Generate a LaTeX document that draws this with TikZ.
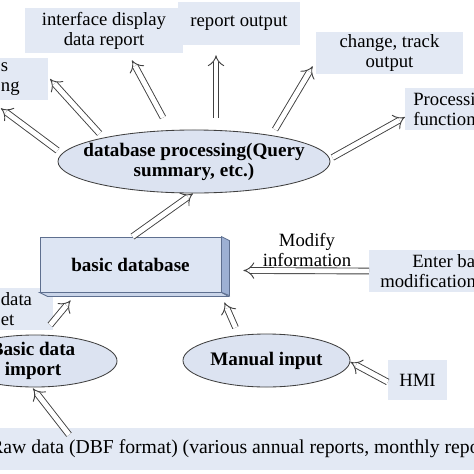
\documentclass[tikz,border=0pt]{standalone}
\usepackage{fontspec}
\setmainfont{Liberation Serif}
\usepackage{xcolor}
\usetikzlibrary{shapes.geometric,arrows.meta}
\definecolor{boxfill}{HTML}{E3E9F4}
\definecolor{ellfill}{HTML}{DCE3F1}
\definecolor{dbfront}{HTML}{DDE5F3}
\definecolor{dbside}{HTML}{9DB0D3}
\definecolor{dbedge}{HTML}{5E6F8F}

\begin{document}
\begin{tikzpicture}[
    x=0.025cm, y=-0.025cm,
    txt/.style={font=\fontsize{13.3}{14.2}\selectfont,align=center},
    infobox/.style={txt,fill=boxfill,inner sep=0pt,minimum height=1.05cm},
    oval/.style={ellipse,draw=black!75,line width=0.6pt,fill=ellfill,inner sep=0pt},
    bold/.style={txt,font=\fontsize{13.6}{14.2}\selectfont\bfseries},
    hollowarrow/.style={draw=black!75,line width=0.65pt,double=white,double distance=3.5pt,-{Implies}}
  ]
    \useasboundingbox (0,0) rectangle (474,474);
    \clip (0,0) rectangle (474,474);

    % Output boxes
    \node[infobox,minimum width=3.95cm,minimum height=1.125cm] (idisp) at (104,30.5) {interface display\\data report};
    \node[infobox,minimum width=3.05cm,minimum height=1.075cm] (rout) at (239,23.5) {report output};
    \node[infobox,minimum width=3.675cm] (change) at (389.5,53) {change, track\\output};
    \node[infobox,text width=1.1cm,align=left,inner xsep=2pt] (stat) at (23,79) {s\\ng};
    \node[infobox,anchor=west,align=left,inner xsep=0.2cm] (proc) at (405,109) {Processing\\functions};

    % Input boxes
    \node[infobox,text width=1.23cm,align=left,inner xsep=2pt] (dset) at (25.5,309) {data\\et};
    \node[infobox,anchor=west,align=left,inner xsep=0.275cm] (enter) at (369,271) {\hspace*{0.8cm}Enter basic\\modification};
    \node[infobox,minimum width=1.475cm,minimum height=1cm] (hmi) at (417.5,380) {HMI};
    \node[infobox,anchor=west,align=left,inner xsep=0.1cm,font=\fontsize{14}{15}\selectfont] (raw) at (-14,449) {Raw data (DBF format) (various annual reports, monthly reports)};

    % Ovals
    \node[oval,minimum width=6.8cm,minimum height=1.575cm] (dbproc) at (194,161.5) {};
    \node[bold] (dbproctext) at (dbproc) {database processing(Query\\summary, etc.)};
    \node[oval,minimum width=4.1cm,minimum height=1.3cm] (import) at (35,361) {};
    \node[bold] (importtext) at (33,361) {Basic data\\import};
    \node[oval,minimum width=4.175cm,minimum height=1.325cm] (manual) at (266.5,360.5) {};
    \node[bold] (manualtext) at (manual) {Manual input};

    % Basic database block
    \node[bold,draw=dbedge,fill=dbfront,line width=0.6pt,minimum width=4.525cm,minimum height=1.375cm] (basicdb) at (130.5,264.5) {basic database};
    \filldraw[fill=dbside,draw=dbedge,line width=0.6pt] (basicdb.north east) -- ++(8,4) -- ++(0,55) -- (basicdb.south east) -- cycle;
    \filldraw[fill=dbfront!70!dbside,draw=dbedge,line width=0.6pt] (basicdb.south west) -- ++(8,4) -- ++(181,0) -- (basicdb.south east) -- cycle;

    \node[txt] (modlbl) at (307,250) {Modify\\information};

    % Arrows
    \draw[hollowarrow] ([shift={(0,-11)}]dbproc.west) -- ([shift={(3,8)}]stat.south west);
    \draw[hollowarrow] ([shift={(42,-28)}]dbproc.west) -- ([shift={(2,0)}]stat.east);
    \draw[hollowarrow] ([shift={(-31,-12)}]dbproc.north) -- ([shift={(28,7)}]idisp.south);
    \draw[hollowarrow] ([shift={(22,-12)}]dbproc.north) -- ([shift={(-23,10)}]rout.south);
    \draw[hollowarrow] ([shift={(81,0)}]dbproc.north) -- ([shift={(-3,-8)}]change.south west);
    \draw[hollowarrow] ([shift={(2,-4)}]dbproc.east) -- ([shift={(0,8)}]proc.west);
    \draw[hollowarrow] ([shift={(2,0)}]basicdb.north) -- ([shift={(-1,0)}]dbproc.south);
    \draw[hollowarrow] ([shift={(-3,16)}]dset.east) -- ([shift={(31,8)}]basicdb.south west);
    \draw[hollowarrow] ([shift={(-31,-6)}]manual.north) -- ([shift={(3,10)}]basicdb.south east);
    \draw[hollowarrow] ([shift={(83,7)}]raw.north west) -- ([shift={(-2,1)}]import.south);
    \draw[hollowarrow] ([shift={(0,2)}]hmi.west) -- ([shift={(0,1.5)}]manual.east);
    \draw[hollowarrow] (enter.west) -- ([shift={(22,6)}]basicdb.east);
  \end{tikzpicture}
\end{document}
